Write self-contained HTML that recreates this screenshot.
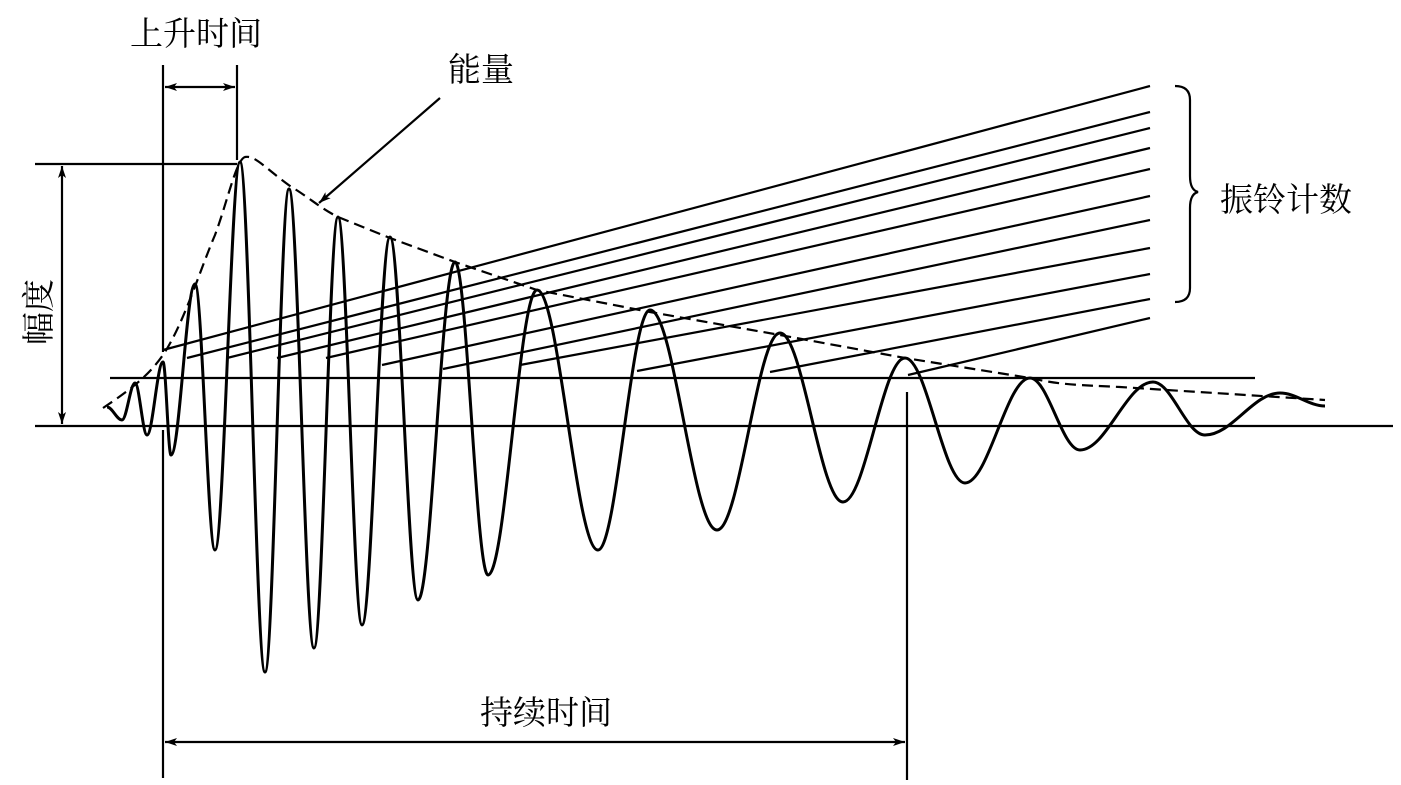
<!DOCTYPE html>
<html><head><meta charset="utf-8"><style>
html,body{margin:0;padding:0;background:#fff}
svg{display:block}
text{font-family:"Liberation Serif","Noto Serif CJK SC",serif;fill:#000}
</style></head><body>
<svg id="s" width="1401" height="785" viewBox="0 0 1401 785" xmlns="http://www.w3.org/2000/svg">
<defs>
<marker id="a" viewBox="0 0 12 8" refX="12" refY="4" markerWidth="12" markerHeight="8" markerUnits="userSpaceOnUse" orient="auto-start-reverse"><path d="M0,0 L12,4 L0,8 L3,4 Z" fill="#000"/></marker>
</defs>
<g stroke="#000" stroke-width="2.2" fill="none">
<line x1="35" y1="426" x2="1393" y2="426"/>
<line x1="110" y1="378" x2="1255" y2="378"/>
<line x1="163" y1="65" x2="163" y2="352"/>
<line x1="163" y1="430" x2="163" y2="778"/>
<line x1="237" y1="65" x2="237" y2="160"/>
<line x1="35" y1="164" x2="237" y2="164"/>
<line x1="907" y1="392" x2="907" y2="780"/>
<line x1="165" y1="87" x2="235" y2="87" marker-start="url(#a)" marker-end="url(#a)"/>
<line x1="62" y1="166" x2="62" y2="424" marker-start="url(#a)" marker-end="url(#a)"/>
<line x1="165" y1="742" x2="905" y2="742" marker-start="url(#a)" marker-end="url(#a)"/>
<line x1="440" y1="98" x2="319" y2="203" marker-end="url(#a)"/>
<line x1="163" y1="350" x2="1150" y2="86"/>
<line x1="187" y1="358" x2="1150" y2="112"/>
<line x1="227" y1="358" x2="1150" y2="128"/>
<line x1="277" y1="358" x2="1150" y2="148"/>
<line x1="326" y1="358" x2="1150" y2="169"/>
<line x1="382" y1="365" x2="1150" y2="196"/>
<line x1="443" y1="369" x2="1150" y2="220"/>
<line x1="520" y1="365" x2="1150" y2="248"/>
<line x1="637" y1="371" x2="1150" y2="274"/>
<line x1="770" y1="372" x2="1150" y2="299"/>
<line x1="908" y1="375" x2="1150" y2="318"/>
<path d="M1175,86 Q1190,86 1190,100 L1190,176 Q1190,190 1198,192 Q1190,194 1190,208 L1190,288 Q1190,302 1175,302"/>
<path stroke-dasharray="11,6" d="M103,408 C130,390 150,375 165,352 C185,320 200,270 215,235 C228,200 236,160 245,157 C255,155 265,168 290,186 C310,198 320,208 338,217 L390,238 L455,262 L537,290 L650,312 L780,335 L905,358 L1030,378 C1060,385 1080,385 1120,387 L1325,400"/>
<path id="w" stroke-width="3"/>
</g>
<text x="130" y="45" font-size="33">上升时间</text>
<text x="448" y="81" font-size="33">能量</text>
<text x="1220" y="211" font-size="33">振铃计数</text>
<text x="480" y="724" font-size="33">持续时间</text>
<text transform="translate(50,345) rotate(-90)" font-size="33">幅度</text>
</svg>
<script>
var p=[[107,407],[122,420],[135,383],[147,435],[163,362],[171,455],[195,284],[215,550],[240,162],[265,672],[289,189],[314,648],[338,217],[362,625],[390,237],[418,600],[455,262],[488,575],[537,290],[598,550],[650,310],[717,530],[780,333],[843,502],[905,358],[965,483],[1030,378],[1080,450],[1153,382],[1205,435],[1280,393],[1325,406]];
var d="M"+p[0][0]+","+p[0][1];
for(var i=1;i<p.length;i++){var a=p[i-1],b=p[i],dx=b[0]-a[0],k=0.36;
d+=" C"+(a[0]+k*dx)+","+a[1]+" "+(b[0]-k*dx)+","+b[1]+" "+b[0]+","+b[1];}
document.getElementById("w").setAttribute("d",d);
</script>
</body></html>
